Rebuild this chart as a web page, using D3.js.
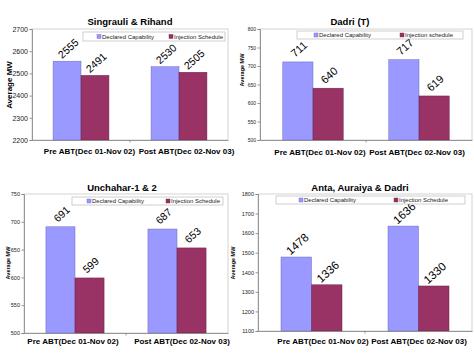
<!DOCTYPE html>
<html>
<head>
<meta charset="utf-8">
<script src="https://cdn.jsdelivr.net/npm/d3@7"></script>
<style>
  html, body { margin: 0; padding: 0; background: #fff; }
  svg { display: block; }
  text { font-family: "Liberation Sans", Arial, sans-serif; }
</style>
</head>
<body>
<svg id="chart" width="474" height="355"></svg>
<script>
// ---------- DATA ----------
const categories = ["Pre ABT(Dec 01-Nov 02)", "Post ABT(Dec 02-Nov 03)"];
const seriesKeys = ["dc", "is"];

const chartTitles = ["Singrauli & Rihand", "Dadri (T)", "Unchahar-1 & 2", "Anta, Auraiya & Dadri"];

const legendDC = ["Declared Capability", "Declared Capability", "Declared Capability", "Declared Capability"];
const legendIS = ["Injection Schedule", "Injection schedule", "Injection Schedule", "Injection Schedule"];

const singrauliDC = [2555, 2530];
const singrauliIS = [2491, 2505];
const dadriDC = [711, 717];
const dadriIS = [640, 619];
const unchaharDC = [691, 687];
const unchaharIS = [599, 653];
const antaDC = [1478, 1636];
const antaIS = [1336, 1330];

const singrauliTicks = [2200, 2300, 2400, 2500, 2600, 2700];
const dadriTicks = [500, 550, 600, 650, 700, 750, 800];
const unchaharTicks = [500, 550, 600, 650, 700, 750];
const antaTicks = [1100, 1200, 1300, 1400, 1500, 1600, 1700, 1800];

const yAxisTitle = "Average MW";

// ---------- LAYOUT / STYLE ----------
const colors = { dc: "#9999ff", is: "#993366" };
const strokes = { dc: "#6b6bc0", is: "#6a2346" };

const layouts = [
  { left: 32, right: 228, top: 29, bottom: 140, tickFont: 7, titleX: 130, titleY: 25,
    legend: { x: 83, y: 32, w: 142, h: 9, sq2: 169 , sq1: 97},
    yl: { x: 9, y: 85, size: 8 }, catY: 154, catDx: [8.5, 7.5], labelFont: 10.5 },
  { left: 260, right: 472, top: 29, bottom: 140, tickFont: 5, titleX: 350, titleY: 25,
    legend: { x: 297, y: 31, w: 166, h: 8, sq1: 314, sq2: 400 },
    yl: { x: 242, y: 70, size: 5.5 }, catY: 155, catDx: [7, -2], labelFont: 11 },
  { left: 24, right: 228, top: 194, bottom: 333, tickFont: 5.5, titleX: 122, titleY: 191,
    legend: { x: 72, y: 197, w: 151, h: 8, sq1: 87, sq2: 166 },
    yl: { x: 8, y: 263, size: 5.5 }, catY: 344, catDx: [-2, 5], labelFont: 10.5 },
  { left: 258, right: 472, top: 194, bottom: 331, tickFont: 5.5, titleX: 360, titleY: 191,
    legend: { x: 276, y: 196, w: 189, h: 8, sq1: 299, sq2: 394 },
    yl: { x: 233, y: 263, size: 5.5 }, catY: 344, catDx: [11.5, 0.5], labelFont: 11.5 }
];

const charts = [
  { title: chartTitles[0], dc: singrauliDC, is: singrauliIS, ticks: singrauliTicks, legend: [legendDC[0], legendIS[0]] },
  { title: chartTitles[1], dc: dadriDC, is: dadriIS, ticks: dadriTicks, legend: [legendDC[1], legendIS[1]] },
  { title: chartTitles[2], dc: unchaharDC, is: unchaharIS, ticks: unchaharTicks, legend: [legendDC[2], legendIS[2]] },
  { title: chartTitles[3], dc: antaDC, is: antaIS, ticks: antaTicks, legend: [legendDC[3], legendIS[3]] }
];

const svg = d3.select("#chart");

charts.forEach((c, i) => {
  const L = layouts[i];
  const g = svg.append("g");

  const x0 = d3.scaleBand().domain(categories).range([L.left, L.right])
    .paddingInner(0.43).paddingOuter(0.215);
  const x1 = d3.scaleBand().domain(seriesKeys).range([0, x0.bandwidth()]);
  const y = d3.scaleLinear().domain(d3.extent(c.ticks)).range([L.bottom, L.top]);

  // plot area border
  g.append("rect")
    .attr("x", L.left).attr("y", L.top)
    .attr("width", L.right - L.left).attr("height", L.bottom - L.top)
    .attr("fill", "#fff").attr("stroke", "#c8c8c8").attr("stroke-width", 0.8);

  // bars
  const rows = categories.map((cat, k) => ({ cat, dc: c.dc[k], is: c.is[k] }));
  const groups = g.selectAll(".grp").data(rows).enter().append("g")
    .attr("transform", d => `translate(${x0(d.cat)},0)`);
  groups.selectAll("rect").data(d => seriesKeys.map(k => ({ key: k, value: d[k] })))
    .enter().append("rect")
    .attr("x", d => x1(d.key))
    .attr("y", d => y(d.value))
    .attr("width", x1.bandwidth())
    .attr("height", d => y(y.domain()[0]) - y(d.value))
    .attr("fill", d => colors[d.key])
    .attr("stroke", d => strokes[d.key]).attr("stroke-width", 0.5);

  // data labels
  groups.selectAll("text.lbl").data(d => seriesKeys.map(k => ({ key: k, value: d[k] })))
    .enter().append("text")
    .attr("class", "lbl")
    .attr("transform", d => `translate(${x1(d.key) + x1.bandwidth() / 2 + 1},${y(d.value) - 13}) rotate(-42)`)
    .attr("text-anchor", "middle")
    .attr("dominant-baseline", "central")
    .attr("font-size", L.labelFont)
    .attr("fill", "#000")
    .text(d => d.value);

  // y axis
  const yAxis = d3.axisLeft(y).tickValues(c.ticks).tickSize(2.5).tickPadding(1.5).tickFormat(d3.format("d"));
  const ya = g.append("g").attr("transform", `translate(${L.left},0)`).call(yAxis);
  ya.select(".domain").attr("stroke", "#808080").attr("stroke-width", 0.8);
  ya.selectAll(".tick line").attr("stroke", "#808080").attr("stroke-width", 0.8);
  ya.selectAll(".tick text").attr("font-size", L.tickFont).attr("fill", "#222")
    .attr("font-family", "Liberation Sans, Arial, sans-serif");

  // x axis line and tick at band boundary
  const xa = d3.axisBottom(x0).tickSize(0).tickFormat("");
  const xg = g.append("g").attr("transform", `translate(0,${L.bottom})`).call(xa);
  xg.select(".domain").attr("stroke", "#808080").attr("stroke-width", 0.8);
  const mid = (x0(categories[0]) + x0.bandwidth() + x0(categories[1])) / 2;
  g.append("line").attr("x1", mid).attr("x2", mid).attr("y1", L.bottom).attr("y2", L.bottom + 2.5)
    .attr("stroke", "#808080").attr("stroke-width", 0.8);

  // category labels
  categories.forEach((cat, k) => {
    g.append("text")
      .attr("x", x0(cat) + x0.bandwidth() / 2 + L.catDx[k])
      .attr("y", L.catY)
      .attr("text-anchor", "middle")
      .attr("font-size", 8).attr("font-weight", "bold")
      .text(cat);
  });

  // title
  g.append("text").attr("x", L.titleX).attr("y", L.titleY)
    .attr("text-anchor", "middle").attr("font-size", 9.5).attr("font-weight", "bold")
    .text(c.title);

  // y axis title
  g.append("text")
    .attr("transform", `translate(${L.yl.x},${L.yl.y}) rotate(-90)`)
    .attr("text-anchor", "middle").attr("dominant-baseline", "central")
    .attr("font-size", L.yl.size).attr("font-weight", "bold")
    .text(yAxisTitle);

  // legend
  const lg = g.append("g");
  lg.append("rect").attr("x", L.legend.x).attr("y", L.legend.y)
    .attr("width", L.legend.w).attr("height", L.legend.h)
    .attr("fill", "#fff").attr("stroke", "#b0b0b0").attr("stroke-width", 0.6);
  const sqs = [L.legend.sq1, L.legend.sq2];
  seriesKeys.forEach((k, j) => {
    const cy = L.legend.y + L.legend.h / 2;
    lg.append("rect").attr("x", sqs[j]).attr("y", cy - 2).attr("width", 4).attr("height", 4)
      .attr("fill", colors[k]).attr("stroke", strokes[k]).attr("stroke-width", 0.4);
    lg.append("text").attr("x", sqs[j] + 5).attr("y", cy)
      .attr("dominant-baseline", "central").attr("font-size", 6).attr("fill", "#222")
      .text(c.legend[j]);
  });
});
</script>
</body>
</html>
